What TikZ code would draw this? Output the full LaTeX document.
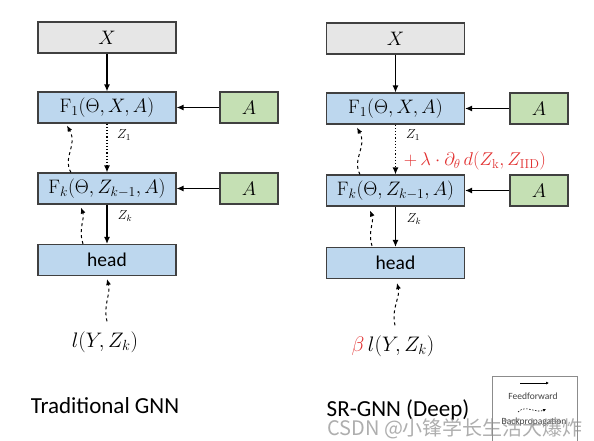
\RequirePackage{fix-cm}
\documentclass[tikz,border=0pt]{standalone}
\usepackage[no-math]{fontspec}
\setmainfont{Carlito}
\newfontfamily\cjk{Noto Sans CJK SC}
\usetikzlibrary{arrows.meta,calc}
\definecolor{boxblue}{RGB}{189,215,238}
\definecolor{boxgreen}{RGB}{197,224,180}
\definecolor{boxgray}{RGB}{230,230,230}
\definecolor{labred}{RGB}{226,48,48}
\begin{document}
\begin{tikzpicture}[x=1pt,y=-1pt,
  box/.style={draw=black!75, line width=1.1pt, minimum width=138pt, minimum height=31pt, inner sep=0pt, font=\fontsize{19.5}{21}\selectfont},
  xbox/.style={box, fill=boxgray},
  fbox/.style={box, fill=boxblue},
  abox/.style={box, fill=boxgreen, minimum width=58pt},
  ff/.style={line width=1.2pt, -{Latex[length=7pt,width=6pt]}},
  ffdot/.style={ff, dotted},
  bp/.style={line width=1pt, dash pattern=on 3pt off 3pt, -{Latex[length=6pt,width=5pt]}},
  zlab/.style={font=\fontsize{13}{15}\selectfont, inner sep=0pt},
  title/.style={font=\fontsize{23}{26}\selectfont, inner sep=0pt},
  mlab/.style={font=\fontsize{21}{23}\selectfont, inner sep=0pt}
]
\useasboundingbox (0,0) rectangle (594,440);
\fill[white] (0,0) rectangle (594,440);

% ---------- left: Traditional GNN ----------
\node[xbox] (xL) at (107,37.5) {$X$};
\node[fbox] (f1L) at (107,107.5) {$\mathrm{F}_1(\Theta,X,A)$};
\node[abox] (a1L) at (249,107.5) {$A$};
\node[fbox] (fkL) at (107,188.5) {$\mathrm{F}_k(\Theta,Z_{k-1},A)$};
\node[abox] (a2L) at (249,188.5) {$A$};
\node[fbox] (hL) at (107,260) {head};
\node[mlab] (lL) at (105,342) {$l(Y,Z_k)$};
\node[zlab] (z1L) at (124,135) {$Z_1$};
\node[zlab] (zkL) at (125,216) {$Z_k$};
\node[title] (tL) at (105,406) {Traditional GNN};

\draw[ff] (xL) -- (f1L);
\draw[ff] (a1L) -- (f1L);
\draw[ff] (a2L) -- (fkL);
\draw[ffdot] (f1L) -- (fkL);
\draw[ff] (fkL) -- (hL);
\draw[bp] ($(fkL.north)+(-36,0)$) .. controls ($(fkL.north)+(-45,-15)$) and ($(f1L.south)+(-29,22)$) .. ($(f1L.south)+(-40,2)$);
\draw[bp] ($(hL.north)+(-24,0)$) .. controls ($(hL.north)+(-29,-14)$) and ($(fkL.south)+(-22,14)$) .. ($(fkL.south)+(-26,3)$);
\draw[bp] ($(lL.north)+(2,-10)$) .. controls ($(lL.north)+(-2,-27)$) and ($(hL.south)+(4,18)$) .. ($(hL.south)+(0,3)$);

% ---------- right: SR-GNN (Deep) ----------
\node[xbox] (xR) at (395.5,38.5) {$X$};
\node[fbox] (f1R) at (395.5,108.5) {$\mathrm{F}_1(\Theta,X,A)$};
\node[abox] (a1R) at (539,108.5) {$A$};
\node[fbox] (fkR) at (395.5,190.5) {$\mathrm{F}_k(\Theta,Z_{k-1},A)$};
\node[abox] (a2R) at (539,190.5) {$A$};
\node[fbox] (hR) at (395.5,263) {head};
\node[mlab] (lR) at (393,346) {\textcolor{labred}{$\beta$}\,$l(Y,Z_k)$};
\node[zlab] (z1R) at (413,135) {$Z_1$};
\node[zlab] (zkR) at (414,219) {$Z_k$};
\node[font=\fontsize{18.5}{20}\selectfont, text=labred, inner sep=0pt] (reg) at (475,161) {$+\,\lambda\cdot\partial_\theta\, d(Z_{\mathrm{k}},Z_{\mathrm{IID}})$};
\node[title] (tR) at (398,410) {SR-GNN (Deep)};

\draw[ff] (xR) -- (f1R);
\draw[ff] (a1R) -- (f1R);
\draw[ff] (a2R) -- (fkR);
\draw[ffdot] (f1R) -- (fkR);
\draw[ff] (fkR) -- (hR);
\draw[bp] ($(fkR.north)+(-35.5,0)$) .. controls ($(fkR.north)+(-44,-15)$) and ($(f1R.south)+(-28,22)$) .. ($(f1R.south)+(-38.5,3)$);
\draw[bp] ($(hR.north)+(-23.5,-1)$) .. controls ($(hR.north)+(-28,-15)$) and ($(fkR.south)+(-21,15)$) .. ($(fkR.south)+(-25.5,4)$);
\draw[bp] ($(lR.north)+(2,-10)$) .. controls ($(lR.north)+(-2,-27)$) and ($(hR.south)+(5,18)$) .. ($(hR.south)+(1.5,4)$);

% ---------- legend ----------
\node[draw=black!45, line width=0.6pt, minimum width=85pt, minimum height=70pt, inner sep=0pt, anchor=north west] (leg) at (492,376) {};
\coordinate (ffa) at (520,383);
\coordinate (ffb) at (549,383);
\draw[line width=0.6pt, -{Latex[length=3pt,width=3pt]}] (ffa) -- (ffb);
\node[font=\fontsize{9.5}{11}\selectfont, text=black!75, inner sep=0pt] (ffl) at (533,396) {Feedforward};
\coordinate (bpa) at (518,412);
\coordinate (bpb) at (546,409);
\draw[line width=0.6pt, dash pattern=on 1.5pt off 1.5pt, -{Latex[length=3pt,width=3pt]}] (bpa) .. controls (526,404) and (536,414) .. (bpb);
\node[font=\fontsize{9.5}{11}\selectfont, text=black!75, inner sep=0pt] (bpl) at (534,422) {Backpropagation};

% ---------- watermark ----------
\node[font=\cjk\fontsize{20}{22}\selectfont, text=black!45, opacity=0.7, inner sep=0pt, anchor=west] (wm) at (327,429) {CSDN @小锋学长生活大爆炸};
\end{tikzpicture}
\end{document}
